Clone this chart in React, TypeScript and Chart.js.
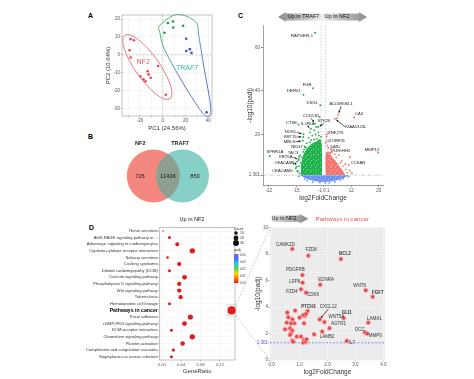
import React, { useEffect, useRef } from "react";
import { Chart, registerables } from "chart.js";

Chart.register(...registerables);

const FONT = "'Liberation Sans', Arial, Helvetica, sans-serif";

/* ---------------- Panel A : PCA ---------------- */
const nf2PC1 = [-28.2, -25.3, -29.1, -28.2, -4.1, -13.3, -16.9, -15.1, -19.6, -10.6, -12.4, 2.7];
const nf2PC2 = [8.8, 8.2, 2.6, -1.5, -6.2, -9.2, -13.7, -14.8, -12.0, -12.8, -10.9, -22.3];
const traf7GreenPC1 = [4.5, 9.0, 17.9, 9.2, 1.5];
const traf7GreenPC2 = [17.8, 18.7, 16.3, 15.3, 12.4];
const traf7BluePC1 = [20.6, 23.8, 20.6, 25.3, 38.6];
const traf7BluePC2 = [9.0, 3.2, 2.2, 1.1, -32.1];
const pcaXTicks = [-30, -20, -10, 0, 10, 20, 30, 40];
const pcaYTicks = [-30, -20, -10, 0, 10, 20];

/* ---------------- Panel B : Venn ---------------- */
const vennSets = ["NF2", "TRAF7"];
const vennCounts = [726, 11436, 850]; // NF2 only, shared, TRAF7 only

/* ---------------- Panel C : volcano ---------------- */
const volcanoXTickPos = [-2, -1, 0, 1, 2];
const volcanoXTickLabels = ["-22", "-15", "-1 0 1", "12", "25"];
const volcanoYTicks = [1.301, 20, 40, 60];
const downCoreX = [-0.8, -0.81, -0.76, -0.67, -0.56, -0.42, -0.27, -0.13, -0.09, -0.09];
const downCoreY = [1.3, 5, 9, 12, 14, 15.5, 16.5, 17.5, 12, 1.3];
const upCoreX = [0.09, 0.09, 0.16, 0.28, 0.42, 0.56, 0.68, 0.76];
const upCoreY = [1.3, 11, 12, 9.5, 7.5, 5, 3, 1.3];
const nsCoreX = [-0.82, -0.6, -0.3, 0, 0.3, 0.62, 0.88];
const nsCoreY = [1.3, -0.2, -1.2, -1.5, -1.2, -0.2, 1.3];
const downX = [-0.95, -0.9, -0.88, -0.84, -0.86, -0.8, -0.75, -0.7, -0.62, -0.55, -0.5, -0.42, -0.35, -0.28, -0.2, -0.12, -0.1, -0.6, -0.65, -0.5, -1.02, -1.1, -0.97, -0.15, -0.4, -0.25, -0.3, -0.45, -0.18, -0.35, -0.72, -0.92];
const downY = [3, 5.5, 2.2, 7, 10.5, 9.5, 12, 14.5, 16, 18.5, 21, 19.5, 22, 23.5, 21, 24, 19, 11.5, 14, 16.5, 4.5, 6.5, 7.5, 28, 25, 18, 20, 17.5, 19.5, 17.8, 13.2, 8.8];
const upX = [0.12, 0.2, 0.1, 0.3, 0.45, 0.6, 0.8, 0.85, 0.9, 0.55, 0.35, 0.7, 0.95, 0.15, 0.48, 1.02, 0.25, 0.4, 0.65, 0.78];
const upY = [15, 17, 19, 12, 9.5, 7, 4, 2.5, 6, 10.5, 14, 5.5, 3.5, 21, 27.5, 2.2, 13.5, 11, 8, 6.5];
const nsX = [-0.9, -0.7, 0.7, 0.9, -0.4, 0.4, 0.05, -0.15, 0.2, -0.6, 0.6];
const nsY = [0.8, -0.5, -0.3, 0.6, -1.9, -1.8, -2.3, -2.1, -2.2, -1.2, -1.0];
const volcanoGenes = ["RAPGEFL1", "FGR", "DEFB1", "DSG1", "AC009684.1", "CA3", "KIAA1324L", "CCDC81", "STK26", "CTSE", "IL1RL1", "NOS1", "KRT15", "MRLN", "NKG7", "SPRR1A", "TAC3", "KRT6A", "CEACAM5", "CEACAM6", "ZNF275", "C7ORF31", "DMD", "PLEKHH2", "MMP12", "CCKAR"];
const volcanoGeneX = [-0.32, -0.39, -0.74, -0.13, 0.52, 1.1, 0.4, -0.32, -0.21, -0.92, -0.47, -0.74, -0.75, -0.77, -0.69, -1.96, -0.9, -0.91, -0.99, -0.96, 0.11, 0.07, 0.16, 0.25, 1.97, 0.95];
const volcanoGeneY = [66.8, 41.3, 38.3, 33.4, 29.1, 27.8, 27.3, 25.0, 23.5, 24.6, 22.7, 20.1, 18.9, 17.1, 14.3, 10.1, 9.8, 8.3, 5.2, 3.4, 20.0, 16.2, 13.9, 11.6, 11.6, 9.5];
// label placement in px: dx, dy, arrow
const volcanoLabelLayout = [
  [-13, 3, 0], [-6, -3, 0], [-10, -4, 0], [-8, -3, 0], [3, -11, 1], [5, -4, 0], [21, 8, 1], [-4, -8, 1], [6, -6, 1],
  [-7, -2, 0], [-3, -5, 1], [-13, -2, 1], [-13, 0, 1], [-13, 1, 1], [-8, 0, 0], [5, -4, 0], [-6, -4, 0], [-13, -3, 1],
  [-12, -4, 1], [-15, 0, 0], [9, -2, 0], [10, -2, 0], [7, -1, 0], [10, -2, 0], [-6, -3, 0], [8, 5, 0],
];

/* ---------------- Panel D left : KEGG dot plot ---------------- */
const pathways = [
  "Renin secretion",
  "AGE-RAGE signaling pathway in ...",
  "Adrenergic signaling in cardiomyocytes",
  "Cytokine-cytokine receptor interaction",
  "Salivary secretion",
  "Cushing syndrome",
  "Dilated cardiomyopathy (DCM)",
  "Calcium signaling pathway",
  "Phospholipase D signaling pathway",
  "Wnt signaling pathway",
  "Tuberculosis",
  "Hematopoietic cell lineage",
  "Pathways in cancer",
  "Focal adhesion",
  "cGMP-PKG signaling pathway",
  "ECM-receptor interaction",
  "Chemokine signaling pathway",
  "Platelet activation",
  "Complement and coagulation cascades",
  "Staphylococcus aureus infection",
];
const geneRatio = [0.003, 0.016, 0.032, 0.063, 0.012, 0.036, 0.016, 0.047, 0.036, 0.036, 0.039, 0.016, 0.144, 0.059, 0.047, 0.02, 0.063, 0.043, 0.024, 0.02];
const pathwayCount = [1, 4, 7, 13, 3, 8, 4, 10, 8, 8, 8, 4, 30, 12, 10, 4, 13, 9, 5, 4];
const pathwayPadj = [0.004, 0.002, 0.002, 0.001, 0.003, 0.002, 0.002, 0.001, 0.002, 0.002, 0.002, 0.002, 0.0005, 0.001, 0.001, 0.002, 0.001, 0.001, 0.002, 0.002];
const countLegend = [10, 20, 30];
const padjLegend = ["0.04", "0.03", "0.02", "0.01", "0.00"];

/* ---------------- Panel D right : Pathways in cancer ---------------- */
const cancerGenes = ["CAMK2D", "FZD8", "BCL2", "PDGFRB", "LRP6", "EDNRA", "WNT6", "FGF7", "FZD4", "CDK6", "PTCH1", "CXCL12", "WNT5A", "GLI1", "AGTR1", "LAMA1", "DCC", "MMP9", "LAMB2", "IL7"];
const cancerGeneFC = [0.74, 1.31, 2.48, 1.1, 1.11, 1.74, 3.37, 3.62, 1.05, 1.23, 1.29, 1.72, 1.89, 2.58, 2.07, 3.46, 3.34, 3.42, 1.81, 2.69];
const cancerGeneP = [8.39, 7.88, 7.63, 6.42, 5.84, 5.69, 5.27, 4.78, 5.34, 5.09, 3.7, 3.07, 2.87, 3.17, 2.4, 2.82, 2.07, 1.99, 2.14, 1.44];
const cancerLabelLayout = [
  [-7, -4, 0, 0], [3, -6, 0, 0], [4, -5, 0, 1], [-7, -5, 0, 0], [-8, -1, 0, 0], [6, -5, 0, 0], [-6, -5, 0, 0], [5, -4, 0, 1],
  [-9, 2, 0, 0], [7, 2, 0, 0], [1, -4.5, 0, 1], [8.5, -13, 1, 0], [12, -5, 0, 0], [3, -5, 0, 1], [9, -4, 0, 0], [6, -4, 0, 0],
  [-5, -3, 0, 0], [8, 2, 0, 0], [5, 5, 0, 0], [5, 1.5, 0, 0],
];
const cancerOtherFC = [0.56, 0.84, 0.6, 0.74, 0.81, 0.54, 0.69, 0.48, 0.66, 0.74, 0.69, 0.66, 0.74, 0.77, 0.9, 1.05, 1.16, 1.13, 1.22, 1.25, 1.16, 1.19, 1.13, 1.23, 1.52, 1.0];
const cancerOtherP = [3.58, 3.73, 3.23, 3.08, 2.77, 2.82, 2.77, 2.32, 2.39, 2.22, 2.02, 1.89, 1.46, 1.38, 1.76, 1.76, 1.51, 1.31, 1.38, 1.56, 2.77, 3.33, 3.4, 3.48, 1.94, 3.2];

/* ---------------- helpers ---------------- */
const fixW = (w: number) => (s: any) => { s.width = w; };
const fixH = (h: number) => (s: any) => { s.height = h; };
const setTicks = (vals: number[]) => (s: any) => { s.ticks = vals.map((v) => ({ value: v })); };
const f = (size: number, weight: any = "normal") => ({ size, family: FONT, weight });
const BASE = { animation: false, responsive: false, devicePixelRatio: 1 };

function ChartBox({ x, y, w, h, make }: any) {
  const ref = useRef<HTMLCanvasElement>(null);
  useEffect(() => {
    const c = new Chart(ref.current as HTMLCanvasElement, make());
    return () => c.destroy();
  }, []);
  return (
    <canvas ref={ref} width={w} height={h}
      style={{ position: "absolute", left: x, top: y, width: w, height: h }} />
  );
}

function drawGeneLabels(chart: any, names: string[], xs: number[], ys: number[], layout: number[][], size: number, color = "#222") {
  const { ctx } = chart;
  const sx = chart.scales.x, sy = chart.scales.y;
  ctx.save();
  names.forEach((n, i) => {
    const px = sx.getPixelForValue(xs[i]);
    const py = sy.getPixelForValue(ys[i]);
    const [dx, dy, arrow, bold] = layout[i];
    ctx.font = `${bold ? "bold " : ""}${size}px ${FONT}`;
    ctx.fillStyle = color;
    ctx.textAlign = "center";
    ctx.textBaseline = "middle";
    const lx = px + dx, ly = py + dy;
    ctx.fillText(n, lx, ly);
    if (arrow) {
      const w = ctx.measureText(n).width;
      let sx0 = lx, sy0 = ly;
      if (Math.abs(dx) > Math.abs(dy)) sx0 = lx - Math.sign(dx) * (w / 2 + 0.5);
      else sy0 = ly - Math.sign(dy) * (size / 2 + 0.5);
      const ang = Math.atan2(py - sy0, px - sx0);
      const ex = px - Math.cos(ang) * 2, ey = py - Math.sin(ang) * 2;
      ctx.strokeStyle = "#111";
      ctx.lineWidth = 0.7;
      ctx.beginPath();
      ctx.moveTo(sx0, sy0);
      ctx.lineTo(ex, ey);
      ctx.stroke();
      ctx.fillStyle = "#111";
      ctx.beginPath();
      ctx.moveTo(ex, ey);
      ctx.lineTo(ex - Math.cos(ang - 0.5) * 2.2, ey - Math.sin(ang - 0.5) * 2.2);
      ctx.lineTo(ex - Math.cos(ang + 0.5) * 2.2, ey - Math.sin(ang + 0.5) * 2.2);
      ctx.closePath();
      ctx.fill();
    }
  });
  ctx.restore();
}

function closedCurve(ctx: any, pts: number[][]) {
  const n = pts.length;
  ctx.beginPath();
  ctx.moveTo(pts[0][0], pts[0][1]);
  for (let i = 0; i < n; i++) {
    const p0 = pts[(i - 1 + n) % n], p1 = pts[i], p2 = pts[(i + 1) % n], p3 = pts[(i + 2) % n];
    const c1x = p1[0] + (p2[0] - p0[0]) / 6, c1y = p1[1] + (p2[1] - p0[1]) / 6;
    const c2x = p2[0] - (p3[0] - p1[0]) / 6, c2y = p2[1] - (p3[1] - p1[1]) / 6;
    ctx.bezierCurveTo(c1x, c1y, c2x, c2y, p2[0], p2[1]);
  }
  ctx.closePath();
}

// speckled fill that imitates a dense cloud of points
function speckle(color: string) {
  const c = document.createElement("canvas");
  c.width = 5; c.height = 5;
  const g = c.getContext("2d") as CanvasRenderingContext2D;
  g.fillStyle = color;
  g.fillRect(0, 0, 5, 5);
  g.fillStyle = "rgba(255,255,255,0.45)";
  g.fillRect(1, 2, 1, 1);
  g.fillRect(3, 0, 1, 1);
  g.fillRect(4, 3, 1, 1);
  return g.createPattern(c, "repeat");
}

/* ---------------- Panel A ---------------- */
function makeA() {
  const pcaPlugin = {
    id: "pca",
    beforeDatasetsDraw(chart: any) {
      const { ctx, chartArea: a } = chart;
      const sx = chart.scales.x, sy = chart.scales.y;
      ctx.save();
      ctx.strokeStyle = "#b5b5b5";
      ctx.lineWidth = 0.6;
      ctx.setLineDash([2, 1.5]);
      const x0 = sx.getPixelForValue(0), y0 = sy.getPixelForValue(0);
      ctx.beginPath();
      ctx.moveTo(x0, a.top); ctx.lineTo(x0, a.bottom);
      ctx.moveTo(a.left, y0); ctx.lineTo(a.right, y0);
      ctx.stroke();
      ctx.restore();
    },
    afterDatasetsDraw(chart: any) {
      const { ctx, chartArea: a } = chart;
      const sx = chart.scales.x, sy = chart.scales.y;
      ctx.save();
      ctx.strokeStyle = "#e56b6f";
      ctx.lineWidth = 0.9;
      ctx.beginPath();
      ctx.ellipse(sx.getPixelForValue(-13.5), sy.getPixelForValue(-6.8), 39, 12, (54.6 * Math.PI) / 180, 0, Math.PI * 2);
      ctx.stroke();
      const hull = [[-2.35, 16.6], [12.5, 22.6], [28.8, 18.5], [31.8, 10.1], [36.2, -6.8], [42.2, -29.3], [39.8, -34.5], [33.3, -31.1], [19.9, -18], [8.1, -4.9], [0.6, 4.4], [-2.35, 12]];
      const pts = hull.map(([x, y]) => [sx.getPixelForValue(x), sy.getPixelForValue(y)]);
      const g = ctx.createLinearGradient(sx.getPixelForValue(0), sy.getPixelForValue(16), sx.getPixelForValue(30), sy.getPixelForValue(-5));
      g.addColorStop(0, "#2fae55");
      g.addColorStop(0.45, "#3aa58e");
      g.addColorStop(1, "#4a63d0");
      ctx.strokeStyle = g;
      ctx.lineWidth = 0.9;
      closedCurve(ctx, pts);
      ctx.stroke();
      ctx.font = `7px ${FONT}`;
      ctx.textAlign = "center";
      ctx.textBaseline = "middle";
      ctx.fillStyle = "#e05a5f";
      ctx.fillText("NF2", sx.getPixelForValue(-17.2), sy.getPixelForValue(-4));
      ctx.fillStyle = "#33b49a";
      ctx.fillText("TRAF7", sx.getPixelForValue(21.4), sy.getPixelForValue(-7.6));
      ctx.strokeStyle = "#9a9a9a";
      ctx.lineWidth = 0.6;
      ctx.strokeRect(a.left, a.top, a.right - a.left, a.bottom - a.top);
      ctx.restore();
    },
  };
  const pts = (xs: number[], ys: number[]) => xs.map((x, i) => ({ x, y: ys[i] }));
  return {
    type: "scatter",
    data: {
      datasets: [
        { data: pts(nf2PC1, nf2PC2), backgroundColor: "#e34a50", borderColor: "#e34a50", pointRadius: 1.3, borderWidth: 0 },
        { data: pts(traf7GreenPC1, traf7GreenPC2), backgroundColor: "#1f9e4a", borderColor: "#1f9e4a", pointRadius: 1.3, borderWidth: 0 },
        { data: pts(traf7BluePC1, traf7BluePC2), backgroundColor: "#3552c4", borderColor: "#3552c4", pointRadius: 1.3, borderWidth: 0 },
      ],
    },
    options: {
      ...BASE,
      layout: { autoPadding: false, padding: { top: 7, right: 6, left: 0, bottom: 0 } },
      plugins: { legend: { display: false }, tooltip: { enabled: false } },
      scales: {
        x: {
          type: "linear", min: -35.8, max: 43.3, afterFit: fixH(18), afterBuildTicks: setTicks(pcaXTicks),
          ticks: { callback: (v: number) => (v % 20 === 0 ? String(v) : ""), font: f(4.5), color: "#555", padding: 0.5, maxRotation: 0, autoSkip: false },
          grid: { color: "#ececec", lineWidth: 0.5, tickLength: 1.5, tickColor: "#888" },
          border: { display: false },
          title: { display: true, text: "PC1 (24.56%)", font: f(6), color: "#333", padding: { top: 0, bottom: 2.5 } },
        },
        y: {
          type: "linear", min: -34.2, max: 22.3, afterFit: fixW(22), afterBuildTicks: setTicks(pcaYTicks),
          ticks: { font: f(4.5), color: "#555", padding: 0.5, autoSkip: false },
          grid: { color: "#ececec", lineWidth: 0.5, tickLength: 1.5, tickColor: "#888" },
          border: { display: false },
          title: { display: true, text: "PC2 (10.64%)", font: f(6), color: "#333", padding: { top: 4.5, bottom: 0 } },
        },
      },
    },
    plugins: [pcaPlugin],
  };
}

/* ---------------- Panel B ---------------- */
function makeB() {
  const vennPlugin = {
    id: "venn",
    afterDatasetsDraw(chart: any) {
      const { ctx } = chart;
      const m = chart.getDatasetMeta(0).data;
      const c1 = m[0], c2 = m[1];
      const r = c1.options.radius;
      ctx.save();
      ctx.beginPath();
      ctx.arc(c1.x, c1.y, r, 0, Math.PI * 2);
      ctx.clip();
      ctx.fillStyle = "#8e9e90";
      ctx.beginPath();
      ctx.arc(c2.x, c2.y, c2.options.radius, 0, Math.PI * 2);
      ctx.fill();
      ctx.restore();
      ctx.save();
      ctx.textAlign = "center";
      ctx.textBaseline = "middle";
      ctx.fillStyle = "#1a1a1a";
      ctx.font = `bold 5.5px ${FONT}`;
      ctx.fillText(vennSets[0], c1.x - 13, c1.y - r - 6);
      ctx.fillText(vennSets[1], c2.x - 2.5, c2.y - r - 6);
      ctx.font = `5.8px ${FONT}`;
      ctx.fillText(String(vennCounts[0]), c1.x - 13.3, c1.y);
      ctx.fillText(String(vennCounts[1]), (c1.x + c2.x) / 2, c1.y);
      ctx.fillText(String(vennCounts[2]), c2.x + 12.5, c2.y);
      ctx.restore();
    },
  };
  return {
    type: "bubble",
    data: {
      datasets: [{
        data: [{ x: 33.3, y: 36, r: 26.5 }, { x: 62.5, y: 36, r: 26.5 }],
        backgroundColor: ["#f4877e", "#86d0c8"],
        borderWidth: 0,
        clip: false,
      }],
    },
    options: {
      ...BASE,
      layout: { autoPadding: false, padding: 0 },
      plugins: { legend: { display: false }, tooltip: { enabled: false } },
      scales: {
        x: { display: false, min: 0, max: 100 },
        y: { display: false, min: 0, max: 70, reverse: true },
      },
    },
    plugins: [vennPlugin],
  };
}

/* ---------------- Panel C ---------------- */
function makeC() {
  const volcPlugin = {
    id: "volc",
    beforeDatasetsDraw(chart: any) {
      const { ctx, chartArea: a } = chart;
      const sx = chart.scales.x, sy = chart.scales.y;
      ctx.save();
      ctx.strokeStyle = "#b0b0b0";
      ctx.lineWidth = 0.6;
      ctx.setLineDash([1.5, 1.5]);
      ctx.beginPath();
      [-0.1, 0.06].forEach((v) => {
        const x = sx.getPixelForValue(v);
        ctx.moveTo(x, a.top); ctx.lineTo(x, a.bottom);
      });
      ctx.stroke();
      ctx.restore();
    },
    afterDatasetsDraw(chart: any) {
      const { ctx, chartArea: a } = chart;
      const y = chart.scales.y.getPixelForValue(1.301);
      ctx.save();
      ctx.strokeStyle = "#a8a8a8";
      ctx.lineWidth = 0.6;
      ctx.setLineDash([3, 1.5, 1, 1.5]);
      ctx.beginPath();
      ctx.moveTo(a.left, y); ctx.lineTo(a.right, y);
      ctx.stroke();
      ctx.restore();
      drawGeneLabels(chart, volcanoGenes, volcanoGeneX, volcanoGeneY, volcanoLabelLayout, 4.2);
    },
  };
  const pts = (xs: number[], ys: number[]) => xs.map((x, i) => ({ x, y: ys[i] }));
  const GREEN = "#1db34a", RED = "#f5736c", BLUE = "#6b93f2";
  const core = (xs: number[], ys: number[], col: string) => ({
    data: pts(xs, ys), showLine: true, fill: "shape", backgroundColor: speckle(col), borderColor: col, borderWidth: 1.2, pointRadius: 0, tension: 0.3,
  });
  return {
    type: "scatter",
    data: {
      datasets: [
        core(nsCoreX, nsCoreY, BLUE),
        core(downCoreX, downCoreY, GREEN),
        core(upCoreX, upCoreY, RED),
        { data: pts(nsX, nsY), backgroundColor: BLUE, borderWidth: 0, pointRadius: 0.9 },
        { data: pts(downX, downY), backgroundColor: GREEN, borderWidth: 0, pointRadius: 0.9 },
        { data: pts(upX, upY), backgroundColor: RED, borderWidth: 0, pointRadius: 0.9 },
        { data: pts(volcanoGeneX, volcanoGeneY), backgroundColor: volcanoGeneX.map((v) => (v < 0 ? GREEN : RED)), borderWidth: 0, pointRadius: 1 },
      ],
    },
    options: {
      ...BASE,
      layout: { autoPadding: false, padding: { top: 3, right: 3, left: 0, bottom: 0 } },
      plugins: { legend: { display: false }, tooltip: { enabled: false } },
      scales: {
        x: {
          type: "linear", min: -2.21, max: 2.15, afterFit: fixH(19), afterBuildTicks: setTicks(volcanoXTickPos),
          ticks: { callback: (_v: number, i: number) => volcanoXTickLabels[i], font: f(4.5), color: "#555", padding: 1, maxRotation: 0, autoSkip: false },
          grid: { drawOnChartArea: false, tickLength: 2, tickColor: "#888" },
          border: { display: true, color: "#888", width: 0.8 },
          title: { display: true, text: "log2FoldChange", font: f(6.5), color: "#333", padding: { top: 0, bottom: 1.8 } },
        },
        y: {
          type: "linear", min: -3.2, max: 70, afterFit: fixW(21), afterBuildTicks: setTicks(volcanoYTicks),
          ticks: { callback: (v: number) => String(v), font: f(4.5), color: "#555", padding: 1, autoSkip: false },
          grid: { drawOnChartArea: false, tickLength: 2, tickColor: "#888" },
          border: { display: true, color: "#888", width: 0.8 },
          title: { display: true, text: "-log10(padj)", font: f(6.5), color: "#333", padding: { top: 4.1, bottom: 0 } },
        },
      },
    },
    plugins: [volcPlugin],
  };
}

/* ---------------- Panel D left ---------------- */
const padjColor = (p: number) => {
  const stops = ["#e31a1c", "#ff7f00", "#ffd700", "#4fd04f", "#35c8e8", "#4a6cf0", "#8a5ce8"];
  const t = Math.min(1, p / 0.05) * (stops.length - 1);
  return stops[Math.round(t)];
};

function makeDLeft() {
  const BOLD_IDX = pathways.indexOf("Pathways in cancer");
  const dotPlugin = {
    id: "dot",
    beforeDatasetsDraw(chart: any) {
      const { ctx, chartArea: a } = chart;
      ctx.save();
      ctx.strokeStyle = "#9a9a9a";
      ctx.lineWidth = 0.6;
      ctx.strokeRect(a.left, a.top, a.right - a.left, a.bottom - a.top);
      ctx.restore();
    },
    afterDatasetsDraw(chart: any) {
      const { ctx } = chart;
      const el = chart.getDatasetMeta(0).data[BOLD_IDX];
      ctx.save();
      const bx = el.x - 4.5, by = el.y - 5.5, bw = 9, bh = 11;
      ctx.strokeStyle = "#b8b8b8";
      ctx.lineWidth = 0.6;
      ctx.strokeRect(bx, by, bw, bh);
      ctx.strokeStyle = "#aaaaaa";
      ctx.setLineDash([2, 1.5]);
      ctx.beginPath();
      ctx.moveTo(bx + bw, by); ctx.lineTo(190, 5.7);
      ctx.moveTo(bx + bw, by + bh); ctx.lineTo(190, 138);
      ctx.stroke();
      ctx.setLineDash([]);
      const lx = 154;
      ctx.fillStyle = "#222";
      ctx.font = `3.5px ${FONT}`;
      ctx.textBaseline = "middle";
      ctx.textAlign = "left";
      ctx.fillText("Count", lx, 7);
      countLegend.forEach((c, i) => {
        const y = 11 + i * 5;
        ctx.beginPath();
        ctx.fillStyle = "#111";
        ctx.arc(lx + 2, y, 0.55 * Math.sqrt(c), 0, Math.PI * 2);
        ctx.fill();
        ctx.fillStyle = "#333";
        ctx.fillText(String(c), lx + 6, y);
      });
      ctx.fillText("padj", lx, 28);
      const g = ctx.createLinearGradient(0, 32, 0, 61);
      ["#8a5ce8", "#4a6cf0", "#35c8e8", "#4fd04f", "#ffd700", "#ff7f00", "#e31a1c"].forEach((c, i, arr) => g.addColorStop(i / (arr.length - 1), c));
      ctx.fillStyle = g;
      ctx.fillRect(lx, 32, 4.5, 29);
      ctx.fillStyle = "#333";
      ctx.font = `2.8px ${FONT}`;
      padjLegend.forEach((t, i) => ctx.fillText(t, lx + 6, 33 + i * 7));
      ctx.restore();
    },
  };
  return {
    type: "scatter",
    data: {
      datasets: [{
        data: pathways.map((p, i) => ({ x: geneRatio[i], y: p })),
        pointRadius: pathwayCount.map((c) => 0.75 * Math.sqrt(c)),
        backgroundColor: pathwayPadj.map(padjColor),
        borderWidth: 0,
        clip: false,
      }],
    },
    options: {
      ...BASE,
      layout: { autoPadding: false, padding: { top: 5.7, right: 35, left: 0, bottom: 0 } },
      plugins: { legend: { display: false }, tooltip: { enabled: false } },
      scales: {
        x: {
          type: "linear", min: -0.005, max: 0.151, afterFit: fixH(16), afterBuildTicks: setTicks([0, 0.04, 0.08, 0.12]),
          ticks: { callback: (v: number) => v.toFixed(2), font: f(4.2), color: "#555", padding: 0.5, maxRotation: 0, autoSkip: false },
          grid: { color: "#eeeeee", lineWidth: 0.5, tickLength: 1.5, tickColor: "#888" },
          border: { display: false },
          title: { display: true, text: "GeneRatio", font: f(6), color: "#333", padding: { top: 0, bottom: 1.3 } },
        },
        y: {
          type: "category", labels: pathways, offset: true, afterFit: fixW(79.3),
          ticks: {
            font: (ctx: any) => (ctx.index === BOLD_IDX ? f(5.2, "bold") : f(4.1)),
            color: (ctx: any) => (ctx.index === BOLD_IDX ? "#000" : "#333"),
            padding: 0.5, autoSkip: false,
          },
          grid: { color: "#eeeeee", lineWidth: 0.5, offset: false, tickLength: 1, tickColor: "#888" },
          border: { display: false },
        },
      },
    },
    plugins: [dotPlugin],
  };
}

/* ---------------- Panel D right ---------------- */
function makeDRight() {
  const bgPlugin = {
    id: "bg",
    beforeDraw(chart: any) {
      const { ctx, chartArea: a } = chart;
      ctx.save();
      ctx.fillStyle = "#ececec";
      ctx.fillRect(a.left, a.top, a.right - a.left, a.bottom - a.top);
      ctx.restore();
    },
    beforeDatasetsDraw(chart: any) {
      const { ctx, chartArea: a } = chart;
      const y = chart.scales.y.getPixelForValue(1.301);
      ctx.save();
      ctx.strokeStyle = "#5b5be8";
      ctx.lineWidth = 0.7;
      ctx.setLineDash([2, 1.5]);
      ctx.beginPath();
      ctx.moveTo(a.left, y); ctx.lineTo(a.right, y);
      ctx.stroke();
      ctx.restore();
    },
    afterDatasetsDraw(chart: any) {
      drawGeneLabels(chart, cancerGenes, cancerGeneFC, cancerGeneP, cancerLabelLayout, 4.5, "#333");
    },
  };
  const pt = (xs: number[], ys: number[]) => xs.map((x, i) => ({ x, y: ys[i] }));
  const dotStyle = { backgroundColor: "rgba(232,62,66,0.95)", borderColor: "rgba(248,168,168,1)", borderWidth: 0.8, pointRadius: 2.1 };
  return {
    type: "scatter",
    data: {
      datasets: [
        { data: pt(cancerOtherFC, cancerOtherP), ...dotStyle },
        { data: pt(cancerGeneFC, cancerGeneP), ...dotStyle },
      ],
    },
    options: {
      ...BASE,
      layout: { autoPadding: false, padding: { top: 5.7, right: 2, left: 0, bottom: 0 } },
      plugins: { legend: { display: false }, tooltip: { enabled: false } },
      scales: {
        x: {
          type: "linear", min: -0.06, max: 4.06, afterFit: fixH(17), afterBuildTicks: setTicks([0, 1, 2, 3, 4]),
          ticks: { callback: (v: number) => v.toFixed(1), font: f(4.5), color: "#555", padding: 0.5, maxRotation: 0, autoSkip: false },
          grid: { color: "#f7f7f7", lineWidth: 0.6, tickLength: 1.5, tickColor: "#888" },
          border: { display: false },
          title: { display: true, text: "log2FoldChange", font: f(6.5), color: "#333", padding: { top: 0, bottom: 0.8 } },
        },
        y: {
          type: "linear", min: 0, max: 10, afterFit: fixW(25), afterBuildTicks: setTicks([0, 1.301, 2, 4, 6, 8, 10]),
          ticks: {
            callback: (v: number) => String(v), font: f(4.5), padding: 0.5, autoSkip: false,
            color: (ctx: any) => (ctx.tick && ctx.tick.value === 1.301 ? "#4b4be0" : "#555"),
          },
          grid: { color: "#f7f7f7", lineWidth: 0.6, tickLength: 1.5, tickColor: "#888" },
          border: { display: false },
          title: { display: true, text: "-log10(padj)", font: f(6.5), color: "#333", padding: { top: 9.4, bottom: 0 } },
        },
      },
    },
    plugins: [bgPlugin],
  };
}

/* ---------------- layout ---------------- */
const txt = (extra: any) => ({ position: "absolute" as const, fontFamily: FONT, lineHeight: 1, whiteSpace: "nowrap" as const, ...extra });

export default function App() {
  useEffect(() => {
    document.body.style.margin = "0";
  }, []);
  return (
    <div style={{ position: "fixed", left: 0, top: 0, width: 474, height: 379, background: "#fff", overflow: "hidden" }}>
      <ChartBox x={100} y={8} w={118} h={126} make={makeA} />
      <ChartBox x={120} y={140} w={100} h={70} make={makeB} />
      <ChartBox x={242} y={22} w={144} h={182} make={makeC} />
      <ChartBox x={80} y={222} w={190} h={154} make={makeDLeft} />
      <ChartBox x={245} y={222} w={142} h={155} make={makeDRight} />

      <div style={txt({ left: 88, top: 12, fontSize: 7, fontWeight: "bold" })}>A</div>
      <div style={txt({ left: 88, top: 133, fontSize: 7, fontWeight: "bold" })}>B</div>
      <div style={txt({ left: 238, top: 12, fontSize: 7, fontWeight: "bold" })}>C</div>
      <div style={txt({ left: 89, top: 224, fontSize: 7, fontWeight: "bold" })}>D</div>

      <div style={{
        position: "absolute", left: 278, top: 12, width: 89, height: 10,
        background: "linear-gradient(90deg,#8a8a8a 0%,#cfcfcf 35%,#f0f0f0 50%,#cfcfcf 65%,#8a8a8a 100%)",
        clipPath: "polygon(0 50%, 9% 0, 9% 14%, 91% 14%, 91% 0, 100% 50%, 91% 100%, 91% 86%, 9% 86%, 9% 100%)",
      }} />
      <div style={txt({ left: 303.5, top: 17, fontSize: 5.5, color: "#111", transform: "translate(-50%,-50%)" })}>Up in TRAF7</div>
      <div style={txt({ left: 337, top: 17, fontSize: 5.5, color: "#111", transform: "translate(-50%,-50%)" })}>Up in NF2</div>

      <div style={txt({ left: 192, top: 220, fontSize: 5.5, color: "#111", transform: "translate(-50%,-50%)" })}>Up in NF2</div>

      <div style={{
        position: "absolute", left: 271.5, top: 214, width: 37, height: 9.5,
        background: "linear-gradient(90deg,#e2e2e2 0%,#b5b5b5 50%,#858585 100%)",
        clipPath: "polygon(0 16%, 76% 16%, 76% 0, 100% 50%, 76% 100%, 76% 84%, 0 84%)",
      }} />
      <div style={txt({ left: 284, top: 219, fontSize: 5.5, color: "#111", transform: "translate(-50%,-50%)" })}>Up in NF2</div>
      <div style={txt({ left: 315.5, top: 219, fontSize: 6.2, color: "#e5585a", transform: "translateY(-50%)" })}>Pathways in cancer</div>
    </div>
  );
}
